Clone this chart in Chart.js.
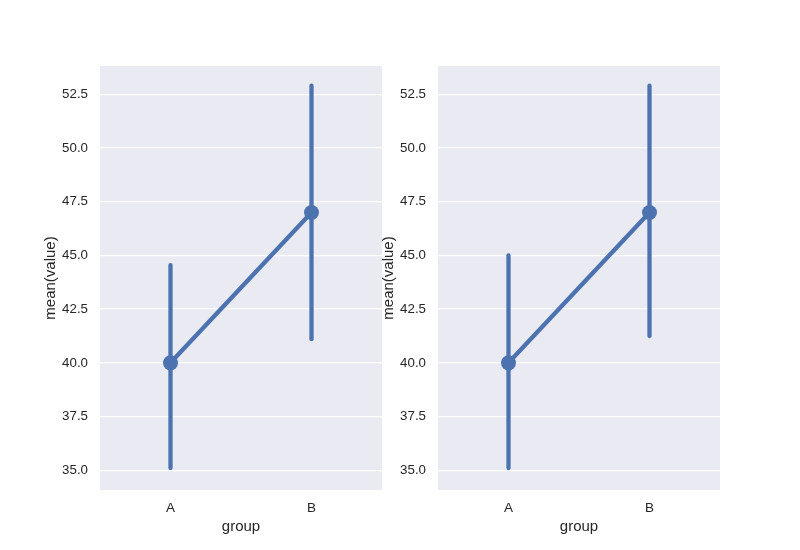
<!DOCTYPE html>
<html>
<head>
<meta charset="utf-8">
<title>mean(value) by group</title>
<script src="https://cdn.jsdelivr.net/npm/chart.js@4/dist/chart.umd.min.js"></script>
<style>
  html, body { margin: 0; padding: 0; background: #ffffff; }
  #fig { position: relative; width: 800px; height: 550px; overflow: hidden; }
  .panel { position: absolute; top: 0; }
</style>
</head>
<body>
<div id="fig">
  <canvas id="chart-left" class="panel" style="left:0px" width="382" height="550"></canvas>
  <canvas id="chart-right" class="panel" style="left:338px" width="382" height="550"></canvas>
</div>
<script>
'use strict';

// ─── Datos ────────────────────────────────────────────────────────────────────
const groups = ['A', 'B'];
const yTicks = [35.0, 37.5, 40.0, 42.5, 45.0, 47.5, 50.0, 52.5];

const leftMeans = [40.0, 47.0];
const leftLow = [35.1, 41.1];
const leftHigh = [44.55, 52.9];

const rightMeans = [40.0, 47.0];
const rightLow = [35.1, 41.25];
const rightHigh = [45.0, 52.9];

// ─── Estilo ───────────────────────────────────────────────────────────────────
const BLUE = '#4c72b0';
const BG = '#eaeaf2';
const TEXT = '#262626';
const FONT = "'Liberation Sans', Arial, sans-serif";

// Fondo gris del área de datos
const areaBg = {
  id: 'areaBg',
  beforeDraw(chart) {
    const { ctx, chartArea: a } = chart;
    ctx.save();
    ctx.fillStyle = BG;
    ctx.fillRect(a.left, a.top, a.right - a.left, a.bottom - a.top);
    ctx.restore();
  },
};

function buildDatasets(means, low, high) {
  const lineStyle = {
    borderColor: BLUE,
    backgroundColor: BLUE,
    borderWidth: 4.3,
    borderCapStyle: 'round',
    pointRadius: 0,
    fill: false,
  };
  // medias primero para quedar encima
  const sets = [{
    ...lineStyle,
    data: groups.map((g, i) => ({ x: g, y: means[i] })),
    pointRadius: 7.5,
    pointBorderWidth: 0,
    pointBackgroundColor: BLUE,
  }];
  groups.forEach((g, i) => {
    sets.push({
      ...lineStyle,
      data: [{ x: g, y: low[i] }, { x: g, y: high[i] }],
    });
  });
  return sets;
}

function crearPanel(canvasId, means, low, high) {
  return new Chart(document.getElementById(canvasId), {
    type: 'line',
    data: { labels: groups, datasets: buildDatasets(means, low, high) },
    plugins: [areaBg],
    options: {
      responsive: false,
      animation: false,
      layout: { autoPadding: false, padding: { top: 66, right: 0, bottom: 10, left: 0 } },
      plugins: { legend: { display: false }, tooltip: { enabled: false } },
      scales: {
        x: {
          type: 'category',
          offset: true,
          grid: { display: false, drawTicks: false },
          border: { display: false },
          ticks: { color: TEXT, font: { family: FONT, size: 13.5 }, padding: 10, maxRotation: 0 },
          title: {
            display: true, text: 'group', color: TEXT,
            font: { family: FONT, size: 15 }, padding: { top: 0, bottom: 4 },
          },
          afterFit(scale) { scale.height = 50; },
        },
        y: {
          min: 34.08,
          max: 53.82,
          grid: { color: '#ffffff', lineWidth: 1.3, drawTicks: false },
          border: { display: false },
          ticks: {
            color: TEXT, font: { family: FONT, size: 13.3 }, padding: 12,
            callback: v => Number(v).toFixed(1),
          },
          afterBuildTicks(scale) { scale.ticks = yTicks.map(v => ({ value: v })); },
          title: {
            display: true, text: 'mean(value)', color: TEXT,
            font: { family: FONT, size: 15 }, padding: { top: 42, bottom: 0 },
          },
          afterFit(scale) { scale.width = 100; },
        },
      },
    },
  });
}

crearPanel('chart-left', leftMeans, leftLow, leftHigh);
crearPanel('chart-right', rightMeans, rightLow, rightHigh);
</script>
</body>
</html>
